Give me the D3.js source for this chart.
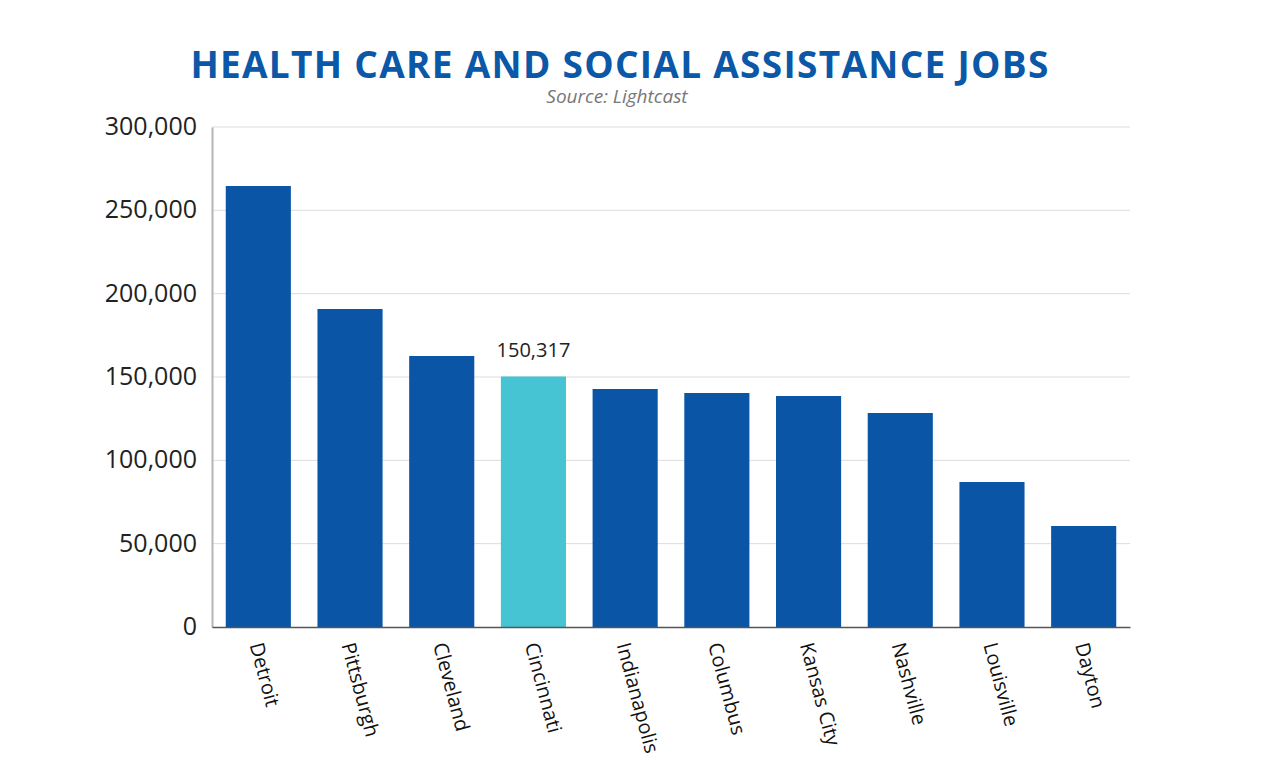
<!DOCTYPE html>
<html>
<head lang="en">
    <meta charset="UTF-8">
    <title>Health Care and Social Assistance Jobs</title>
    <script src="https://cdn.jsdelivr.net/npm/d3@7/dist/d3.min.js"></script>
    <style>
        body { margin: 0; background: #fff; }
        text { font-family: "Open Sans", "Noto Sans", sans-serif; }
    </style>
</head>
<body>
<script>
    var cities = ["Detroit", "Pittsburgh", "Cleveland", "Cincinnati", "Indianapolis",
                  "Columbus", "Kansas City", "Nashville", "Louisville", "Dayton"];
    var jobs = [264600, 190800, 162600, 150317, 142800, 140400, 138600, 128400, 87000, 60600];
    var yTicks = [0, 50000, 100000, 150000, 200000, 250000, 300000];
    var highlight = "Cincinnati";

    var svg = d3.select("body").append("svg")
            .attr("width", 1280)
            .attr("height", 768);

    var plotLeft = 212, plotRight = 1130, plotTop = 127, plotBottom = 627;

    var x = d3.scaleBand()
            .domain(cities)
            .range([plotLeft, plotRight])
            .paddingInner(0.29)
            .paddingOuter(0.15);
    var y = d3.scaleLinear()
            .domain([0, 300000])
            .range([plotBottom, plotTop]);

    // gridlines
    svg.append("g")
            .selectAll("line")
            .data(yTicks.slice(1))
            .enter()
            .append("line")
            .attr("x1", plotLeft).attr("x2", plotRight)
            .attr("y1", function (d) { return y(d); })
            .attr("y2", function (d) { return y(d); })
            .attr("stroke", "#dcdcdc")
            .attr("stroke-width", 1);

    // y axis
    var yAxis = d3.axisLeft(y)
            .tickValues(yTicks)
            .tickSize(0)
            .tickPadding(15)
            .tickFormat(d3.format(","));
    var gy = svg.append("g")
            .attr("transform", "translate(" + plotLeft + ",0)")
            .call(yAxis);
    gy.select(".domain").attr("stroke", "#b5b5b5").attr("stroke-width", 2);
    gy.selectAll("text")
            .attr("font-size", "25px")
            .attr("fill", "#222")
            .attr("dy", "0.3em");

    // bars
    svg.append("g")
            .selectAll("rect")
            .data(jobs)
            .enter()
            .append("rect")
            .attr("x", function (d, i) { return x(cities[i]); })
            .attr("y", function (d) { return y(d); })
            .attr("width", x.bandwidth())
            .attr("height", function (d) { return plotBottom - y(d); })
            .attr("fill", function (d, i) { return cities[i] === highlight ? "#47c4d4" : "#0a55a5"; });

    // value label on highlighted bar
    var hi = cities.indexOf(highlight);
    svg.append("text")
            .attr("x", x(highlight) + x.bandwidth() / 2)
            .attr("y", y(jobs[hi]) - 19)
            .attr("text-anchor", "middle")
            .attr("font-size", "20px")
            .attr("fill", "#222")
            .text(d3.format(",")(jobs[hi]));

    // x axis
    var xAxis = d3.axisBottom(x).tickSize(0).tickPadding(0);
    var gx = svg.append("g")
            .attr("transform", "translate(0," + plotBottom + ")")
            .call(xAxis);
    gx.select(".domain").attr("stroke", "#555").attr("stroke-width", 1.5);
    gx.selectAll("text")
            .attr("font-size", "20px")
            .attr("fill", "#111")
            .attr("text-anchor", "start")
            .attr("y", 0)
            .attr("dy", "0.35em")
            .attr("transform", "translate(-2,16) rotate(75)");

    // titles
    svg.append("text")
            .attr("x", 620)
            .attr("y", 78)
            .attr("text-anchor", "middle")
            .attr("font-size", "37px")
            .attr("font-weight", "bold")
            .attr("letter-spacing", "1.3px")
            .attr("fill", "#0b57a8")
            .text("HEALTH CARE AND SOCIAL ASSISTANCE JOBS");
    svg.append("text")
            .attr("x", 617)
            .attr("y", 103)
            .attr("text-anchor", "middle")
            .attr("font-size", "19px")
            .attr("font-style", "italic")
            .attr("fill", "#777")
            .text("Source: Lightcast");
</script>
</body>
</html>
